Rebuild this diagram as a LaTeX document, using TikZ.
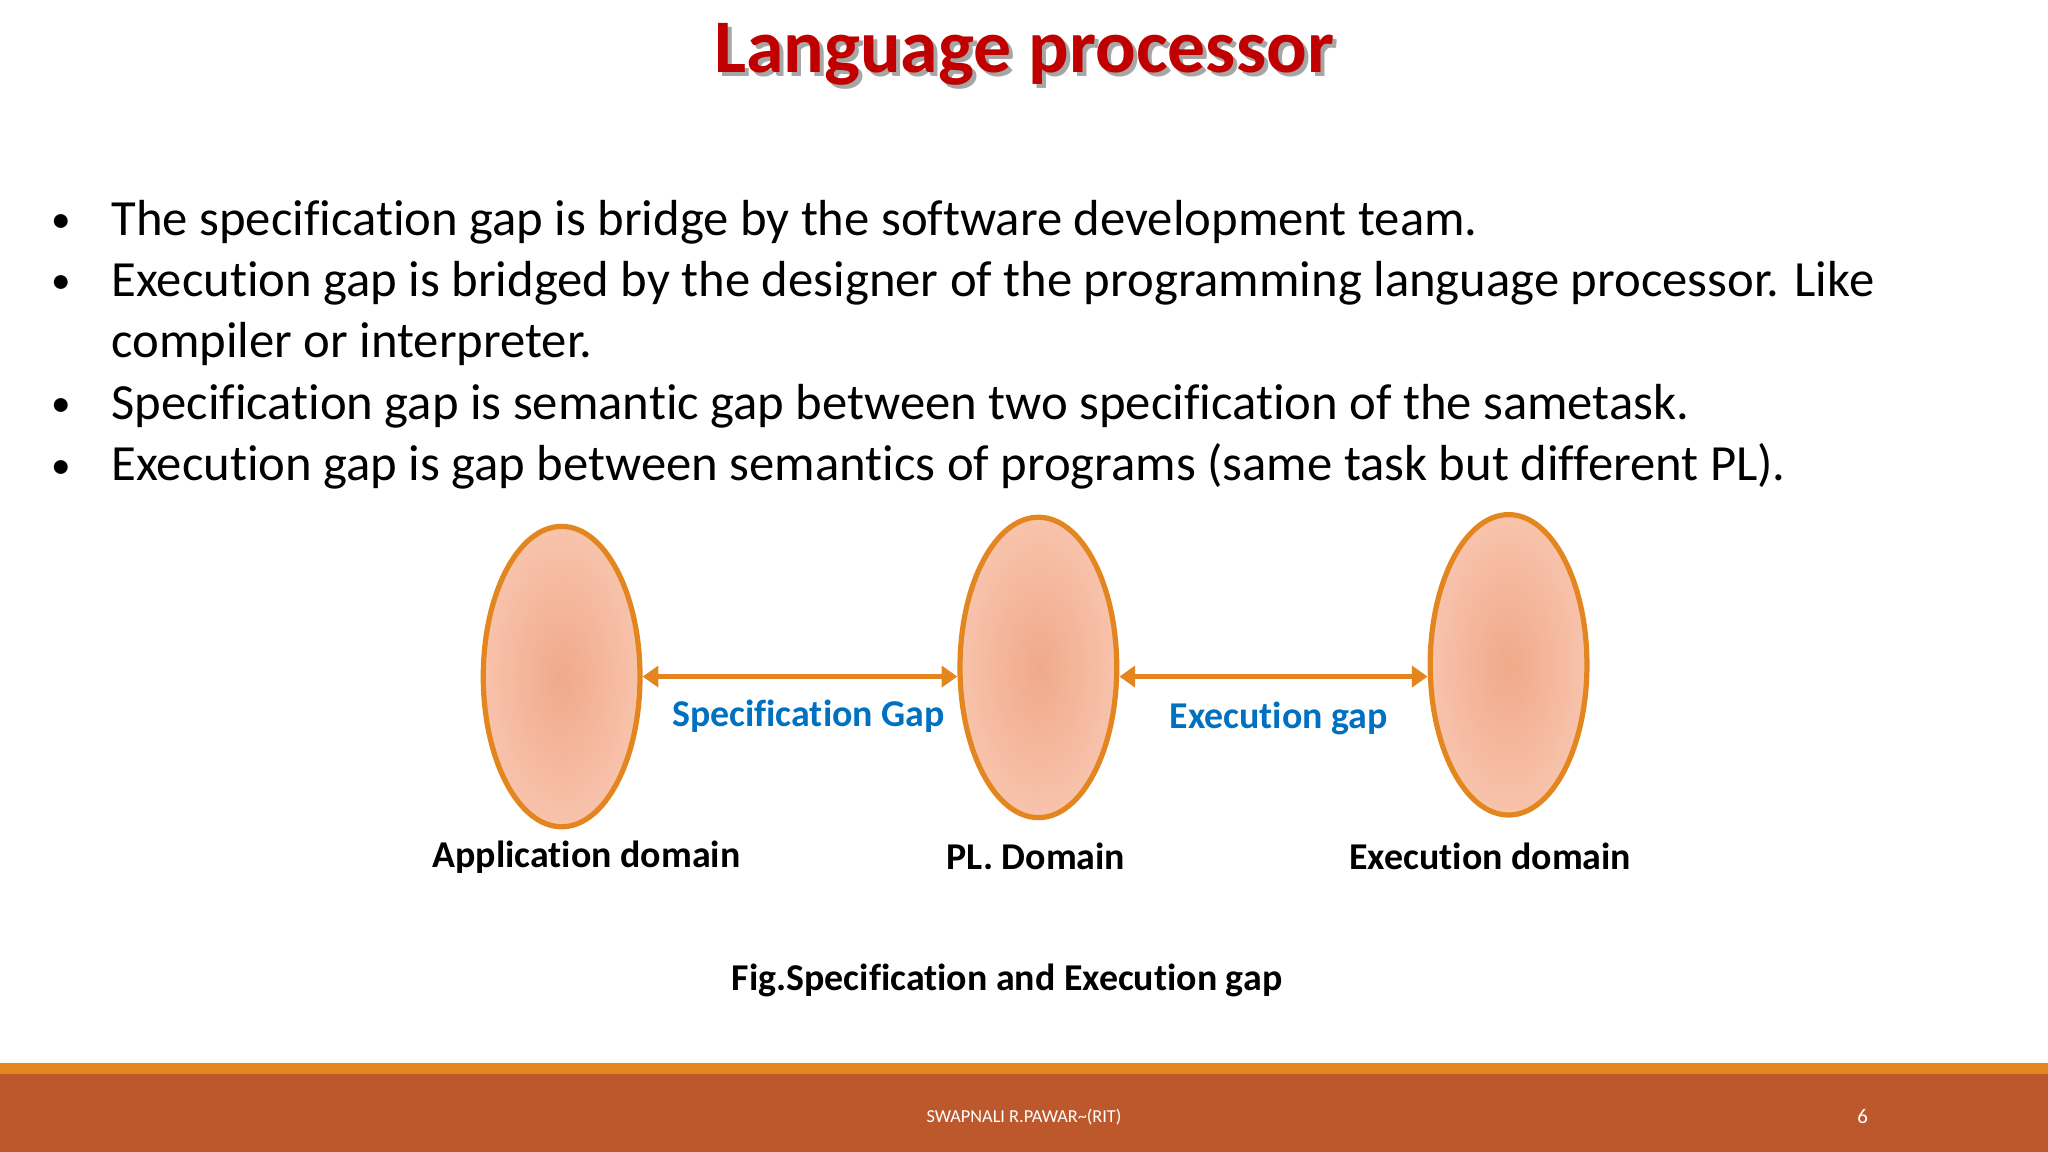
\documentclass[tikz,border=0pt]{standalone}
\usepackage{fontspec}
\setmainfont[Ligatures=NoCommon]{Carlito}
\usetikzlibrary{arrows.meta,shapes.geometric}
\definecolor{ttl}{HTML}{C00000}
\definecolor{org}{HTML}{E3861F}
\definecolor{band}{HTML}{BD582C}
\definecolor{blu}{HTML}{0070C0}
\definecolor{fin}{HTML}{F0A98A}
\definecolor{fout}{HTML}{F8C3AC}
\tikzset{
 dom/.style={ellipse,draw=org,line width=2pt,inner color=fin,outer color=fout,minimum width=60pt,minimum height=115pt},
 gap/.style={org,line width=2pt,{Triangle[length=6pt,width=8pt]}-{Triangle[length=6pt,width=8pt]}},
 glab/.style={text=blu,font=\bfseries\fontsize{14.5}{17}\selectfont},
 dlab/.style={font=\bfseries\fontsize{14.5}{17}\selectfont},
 btxt/.style={anchor=base west,inner sep=0pt,font=\fontsize{19.4}{23}\selectfont},
 bul/.style={anchor=base,inner sep=0pt,font=\fontsize{15}{18}\selectfont}
}
\begin{document}
\begin{tikzpicture}[x=0.5pt,y=-0.5pt]
\useasboundingbox (0,0) rectangle (1568,882);
\fill[white] (0,0) rectangle (1568,882);
\node[text=black!35,font=\bfseries\fontsize{29}{34}\selectfont] at (787,45) {Language processor};
\node[text=ttl,font=\bfseries\fontsize{29}{34}\selectfont] (title) at (784,42) {Language processor};
\foreach \y/\t [count=\i] in {180/{The specification gap is bridge by the software development team.},
 227/{Execution gap is bridged by the designer of the programming language processor. Like},
 321/{Specification gap is semantic gap between two specification of the sametask.},
 368/{Execution gap is gap between semantics of programs (same task but different PL).}}{
 \node[bul] (b\i) at (47,\y-2) {•};
 \node[btxt] (t\i) at (85,\y) {\t};
}
\node[btxt] (t2b) at (85,274) {compiler or interpreter.};
\node[dom] (a) at (430,518) {};
\node[dom] (p) at (795,511) {};
\node[dom] (e) at (1155,509) {};
\draw[gap] (a.east) -- (p.west|-a.east);
\draw[gap] (p.east|-a.east) -- (e.west|-a.east);
\node[glab] (sg) at (619,548) {Specification Gap};
\node[glab] (eg) at (979,550) {Execution gap};
\node[dlab] (la) at (449,656) {Application domain};
\node[dlab] (lp) at (793,656) {PL. Domain};
\node[dlab] (le) at (1141,656) {Execution domain};
\node[dlab] (cap) at (771,751) {Fig.Specification and Execution gap};
\fill[org] (0,814) rectangle (1568,822);
\fill[band] (0,822) rectangle (1568,882);
\node[text=white,font=\fontsize{7}{8}\selectfont] (ft) at (784,855) {SWAPNALI R.PAWAR\textasciitilde(RIT)};
\node[text=white,font=\fontsize{8}{9}\selectfont] (pg) at (1426,855) {6};
\end{tikzpicture}
\end{document}
